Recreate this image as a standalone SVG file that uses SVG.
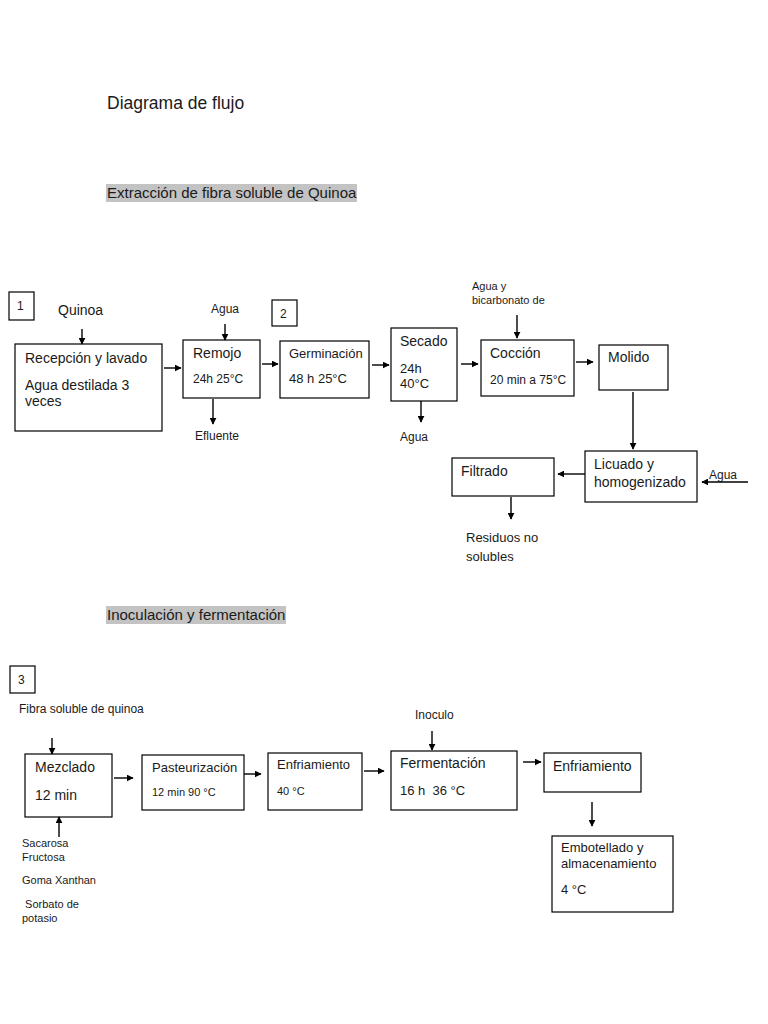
<svg xmlns="http://www.w3.org/2000/svg" width="768" height="1024" viewBox="0 0 768 1024">
<style>
text{font-family:"Liberation Sans",Arial,sans-serif;fill:#1a1a1a}
.box{fill:#fff;stroke:#000;stroke-width:1.2}
.c{stroke:#000;stroke-width:1.4;fill:none;marker-end:url(#ah)}
.s11{font-size:11px}.s12{font-size:12px}.s13{font-size:13px}.s14{font-size:14px}
</style>
<defs>
<marker id="ah" viewBox="0 0 10 10" refX="9" refY="5" markerWidth="7" markerHeight="7" markerUnits="userSpaceOnUse" orient="auto">
<path d="M0,0 L10,5 L0,10 z" fill="#000"/>
</marker>
</defs>
<rect width="768" height="1024" fill="#fff"/>

<g id="titles">
<text x="107" y="109" style="font-size:17.5px">Diagrama de flujo</text>
<rect x="106" y="184" width="251" height="18" fill="#c3c3c3"/>
<text x="107" y="198" style="font-size:15px">Extracción de fibra soluble de Quinoa</text>
<rect x="106" y="606" width="180" height="18" fill="#c3c3c3"/>
<text x="107" y="620" style="font-size:15px">Inoculación y fermentación</text>
</g>

<g id="label1"><rect class="box" x="9" y="292" width="25" height="28"/><text class="s12" x="17" y="310">1</text></g>
<g id="label2"><rect class="box" x="272" y="300" width="25" height="26"/><text class="s12" x="280" y="318">2</text></g>
<g id="label3"><rect class="box" x="10" y="666" width="25" height="27"/><text class="s12" x="18" y="684">3</text></g>

<g id="inputs">
<text class="s14" x="58" y="315">Quinoa</text>
<text class="s12" x="211" y="313">Agua</text>
<text class="s12" x="195" y="440">Efluente</text>
<text class="s12" x="400" y="441">Agua</text>
<text class="s11" x="472" y="290">Agua y</text>
<text class="s11" x="472" y="304">bicarbonato de</text>
<text class="s12" x="709" y="479">Agua</text>
<text class="s13" x="466" y="542">Residuos no</text>
<text class="s13" x="466" y="561">solubles</text>
<text class="s12" x="19" y="713">Fibra soluble de quinoa</text>
<text class="s11" x="22" y="847">Sacarosa</text>
<text class="s11" x="22" y="861">Fructosa</text>
<text class="s11" x="22" y="884">Goma Xanthan</text>
<text class="s11" x="22" y="908">&#160;Sorbato de</text>
<text class="s11" x="22" y="922">potasio</text>
<text class="s12" x="415" y="719">Inoculo</text>
</g>

<g id="recepcion"><rect class="box" x="15" y="344" width="147" height="87"/>
<text class="s14" x="25" y="363">Recepción y lavado</text>
<text class="s14" x="25" y="390">Agua destilada 3</text>
<text class="s14" x="25" y="406">veces</text></g>

<g id="remojo"><rect class="box" x="183" y="340" width="77" height="58"/>
<text class="s14" x="193" y="358">Remojo</text>
<text class="s12" x="193" y="383">24h 25°C</text></g>

<g id="germinacion"><rect class="box" x="280" y="341" width="89" height="57"/>
<text class="s13" x="289" y="358">Germinación</text>
<text class="s13" x="289" y="383">48 h 25°C</text></g>

<g id="secado"><rect class="box" x="391" y="328" width="66" height="73"/>
<text class="s14" x="400" y="346">Secado</text>
<text class="s13" x="400" y="373">24h</text>
<text class="s13" x="400" y="388">40°C</text></g>

<g id="coccion"><rect class="box" x="481" y="340" width="93" height="56"/>
<text class="s14" x="490" y="358">Cocción</text>
<text class="s12" x="490" y="384">20 min a 75°C</text></g>

<g id="molido"><rect class="box" x="599" y="345" width="69" height="45"/>
<text class="s14" x="608" y="362">Molido</text></g>

<g id="licuado"><rect class="box" x="585" y="451" width="112" height="51"/>
<text class="s14" x="594" y="469">Licuado y</text>
<text class="s14" x="594" y="487">homogenizado</text></g>

<g id="filtrado"><rect class="box" x="452" y="458" width="102" height="38"/>
<text class="s14" x="461" y="476">Filtrado</text></g>

<g id="mezclado"><rect class="box" x="25" y="754" width="87" height="63"/>
<text class="s14" x="35" y="772">Mezclado</text>
<text class="s14" x="35" y="800">12 min</text></g>

<g id="pasteurizacion"><rect class="box" x="142" y="755" width="102" height="55"/>
<text class="s13" x="152" y="772">Pasteurización</text>
<text class="s11" x="152" y="796">12 min 90 °C</text></g>

<g id="enfriamiento1"><rect class="box" x="268" y="753" width="94" height="57"/>
<text class="s13" x="277" y="769">Enfriamiento</text>
<text class="s11" x="277" y="795">40 °C</text></g>

<g id="fermentacion"><rect class="box" x="391" y="751" width="126" height="59"/>
<text class="s14" x="400" y="768">Fermentación</text>
<text class="s13" x="400" y="795">16 h&#160; 36 °C</text></g>

<g id="enfriamiento2"><rect class="box" x="544" y="753" width="97" height="39"/>
<text class="s14" x="553" y="771">Enfriamiento</text></g>

<g id="embotellado"><rect class="box" x="552" y="836" width="121" height="76"/>
<text class="s13" x="561" y="852">Embotellado y</text>
<text class="s13" x="561" y="868">almacenamiento</text>
<text class="s13" x="561" y="894">4 °C</text></g>

<g id="connectors">
<line class="c" x1="82" y1="329" x2="82" y2="344"/>
<line class="c" x1="164" y1="368" x2="181" y2="368"/>
<line class="c" x1="225" y1="324" x2="225" y2="340"/>
<line class="c" x1="213" y1="399" x2="213" y2="424"/>
<line class="c" x1="262" y1="364" x2="278" y2="364"/>
<line class="c" x1="372" y1="365" x2="389" y2="365"/>
<line class="c" x1="421" y1="401" x2="421" y2="422"/>
<line class="c" x1="461" y1="364" x2="478" y2="364"/>
<line class="c" x1="517" y1="315" x2="517" y2="338"/>
<line class="c" x1="576" y1="362" x2="593" y2="362"/>
<line class="c" x1="633" y1="392" x2="633" y2="449"/>
<line class="c" x1="748" y1="482" x2="702" y2="482"/>
<line class="c" x1="585" y1="474" x2="558" y2="474"/>
<line class="c" x1="511" y1="497" x2="511" y2="519"/>
<line class="c" x1="52" y1="738" x2="52" y2="754"/>
<line class="c" x1="59" y1="837" x2="59" y2="817"/>
<line class="c" x1="114" y1="778" x2="133" y2="778"/>
<line class="c" x1="244" y1="774" x2="261" y2="774"/>
<line class="c" x1="364" y1="771" x2="384" y2="771"/>
<line class="c" x1="432" y1="731" x2="432" y2="750"/>
<line class="c" x1="523" y1="762" x2="541" y2="762"/>
<line class="c" x1="592" y1="802" x2="592" y2="826"/>
</g>
</svg>
